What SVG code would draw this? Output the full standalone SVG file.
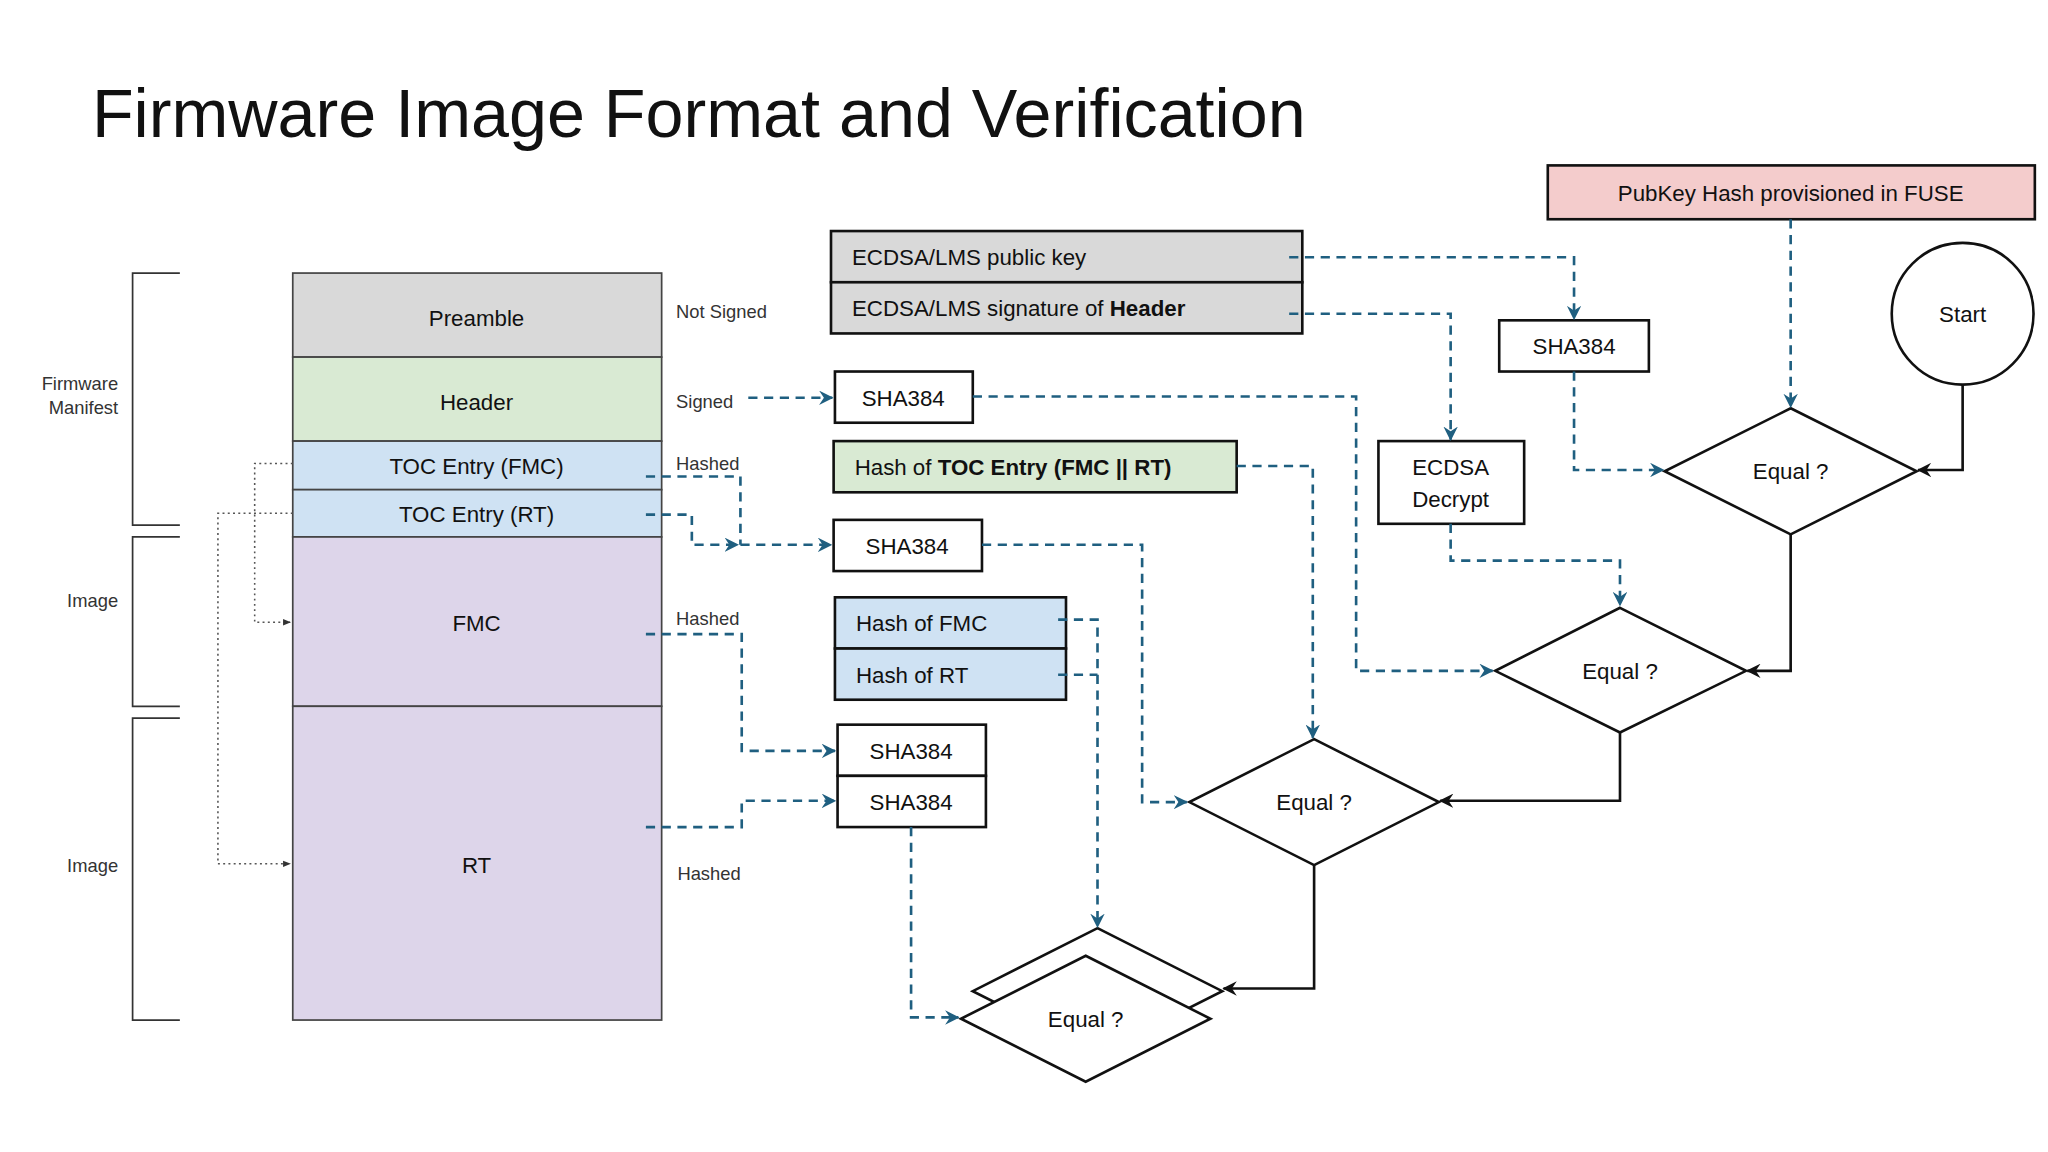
<svg xmlns="http://www.w3.org/2000/svg" width="2048" height="1152" viewBox="0 0 2048 1152">
<style>
text{font-family:"Liberation Sans",Arial,sans-serif;fill:#111}
.t{font-size:17px}
.s{font-size:14px;fill:#333}
.b{stroke:#111;stroke-width:2}
.st{stroke:#444;stroke-width:1.3}
.d{fill:none;stroke:#1f5f80;stroke-width:2;stroke-dasharray:7,5}
.k{fill:none;stroke:#111;stroke-width:2}
.dot{fill:none;stroke:#555;stroke-width:1.2;stroke-dasharray:1.5,2.5}
.br{fill:none;stroke:#333;stroke-width:1.3}
</style>
<defs>
<marker id="ab" viewBox="0 0 12 12" refX="11" refY="6" markerWidth="11" markerHeight="11" markerUnits="userSpaceOnUse" orient="auto"><path d="M0,0 L12,6 L0,12 L4,6 z" fill="#1f5f80"/></marker>
<marker id="ak" viewBox="0 0 12 12" refX="11" refY="6" markerWidth="11" markerHeight="11" markerUnits="userSpaceOnUse" orient="auto"><path d="M0,0 L12,6 L0,12 L4,6 z" fill="#111"/></marker>
<marker id="as" viewBox="0 0 10 10" refX="9" refY="5" markerWidth="6" markerHeight="6" markerUnits="userSpaceOnUse" orient="auto"><path d="M0,1 L10,5 L0,9 z" fill="#333"/></marker>
</defs>
<rect width="2048" height="1152" fill="#fff"/>
<g transform="scale(1.3128)">
<text x="70" y="104" style="font-size:52px">Firmware Image Format and Verification</text>
<g id="brackets">
<path class="br" d="M137,208 H101 V400 H137"/>
<path class="br" d="M137,409 H101 V538 H137"/>
<path class="br" d="M137,547 H101 V777 H137"/>
<text class="s" x="90" y="297" text-anchor="end">Firmware</text>
<text class="s" x="90" y="315" text-anchor="end">Manifest</text>
<text class="s" x="90" y="462" text-anchor="end">Image</text>
<text class="s" x="90" y="664" text-anchor="end">Image</text>
</g>
<g id="preamble"><rect class="st" x="223" y="208" width="281" height="64" fill="#d9d9d9"/><text class="t" x="363" y="248" text-anchor="middle">Preamble</text></g>
<g id="header"><rect class="st" x="223" y="272" width="281" height="64" fill="#d9ead3"/><text class="t" x="363" y="312" text-anchor="middle">Header</text></g>
<g id="tocfmc"><rect class="st" x="223" y="336" width="281" height="37" fill="#cfe2f3"/><text class="t" x="363" y="361" text-anchor="middle">TOC Entry (FMC)</text></g>
<g id="tocrt"><rect class="st" x="223" y="373" width="281" height="36" fill="#cfe2f3"/><text class="t" x="363" y="398" text-anchor="middle">TOC Entry (RT)</text></g>
<g id="fmc"><rect class="st" x="223" y="409" width="281" height="129" fill="#ddd5ea"/><text class="t" x="363" y="481" text-anchor="middle">FMC</text></g>
<g id="rt"><rect class="st" x="223" y="538" width="281" height="239" fill="#ddd5ea"/><text class="t" x="363" y="665" text-anchor="middle">RT</text></g>
<g id="sidelabels">
<text class="s" x="515" y="242">Not Signed</text>
<text class="s" x="515" y="311">Signed</text>
<text class="s" x="515" y="358">Hashed</text>
<text class="s" x="515" y="476">Hashed</text>
<text class="s" x="516" y="670">Hashed</text>
</g>
<g id="keys"><rect class="b" x="633" y="176" width="359" height="39" fill="#d9d9d9"/><rect class="b" x="633" y="215" width="359" height="39" fill="#d9d9d9"/>
<text class="t" x="649" y="202">ECDSA/LMS public key</text><text class="t" x="649" y="241">ECDSA/LMS signature of <tspan font-weight="bold">Header</tspan></text></g>
<g id="sha1"><rect class="b" x="636" y="283" width="105" height="39" fill="#fff"/><text class="t" x="688" y="309" text-anchor="middle">SHA384</text></g>
<g id="hashtoc"><rect class="b" x="635" y="336" width="307" height="39" fill="#d9ead3"/><text class="t" x="651" y="362">Hash of <tspan font-weight="bold">TOC Entry (FMC || RT)</tspan></text></g>
<g id="sha2"><rect class="b" x="635" y="396" width="113" height="39" fill="#fff"/><text class="t" x="691" y="422" text-anchor="middle">SHA384</text></g>
<g id="hashimg"><rect class="b" x="636" y="455" width="176" height="39" fill="#cfe2f3"/><rect class="b" x="636" y="494" width="176" height="39" fill="#cfe2f3"/>
<text class="t" x="652" y="481">Hash of FMC</text><text class="t" x="652" y="520">Hash of RT</text></g>
<g id="sha34"><rect class="b" x="638" y="552" width="113" height="39" fill="#fff"/><rect class="b" x="638" y="591" width="113" height="39" fill="#fff"/>
<text class="t" x="694" y="578" text-anchor="middle">SHA384</text><text class="t" x="694" y="617" text-anchor="middle">SHA384</text></g>
<g id="pubkey"><rect class="b" x="1179" y="126" width="371" height="41" fill="#f4cccc"/><text class="t" x="1364" y="153" text-anchor="middle">PubKey Hash provisioned in FUSE</text></g>
<g id="start"><circle class="b" cx="1495" cy="239" r="54" fill="#fff"/><text class="t" x="1495" y="245" text-anchor="middle">Start</text></g>
<g id="sha5"><rect class="b" x="1142" y="244" width="114" height="39" fill="#fff"/><text class="t" x="1199" y="270" text-anchor="middle">SHA384</text></g>
<g id="decrypt"><rect class="b" x="1050" y="336" width="111" height="63" fill="#fff"/><text class="t" x="1105" y="362" text-anchor="middle">ECDSA</text><text class="t" x="1105" y="386" text-anchor="middle">Decrypt</text></g>
<g id="eq1"><path class="b" d="M1364,311 L1460,359 L1364,407 L1268,359 z" fill="#fff"/><text class="t" x="1364" y="365" text-anchor="middle">Equal ?</text></g>
<g id="eq2"><path class="b" d="M1234,463 L1330,511 L1234,558 L1139,511 z" fill="#fff"/><text class="t" x="1234" y="517" text-anchor="middle">Equal ?</text></g>
<g id="eq3"><path class="b" d="M1001,563 L1096,611 L1001,659 L906,611 z" fill="#fff"/><text class="t" x="1001" y="617" text-anchor="middle">Equal ?</text></g>
<g id="eq4"><path class="b" d="M836,707 L931,755 L836,803 L741,755 z" fill="#fff"/><path class="b" d="M827,728 L922,776 L827,824 L732,776 z" fill="#fff"/><text class="t" x="827" y="782" text-anchor="middle">Equal ?</text></g>
<g id="connectors">
<path class="dot" d="M223,353 H194 V474 H221" marker-end="url(#as)"/>
<path class="dot" d="M223,391 H166 V658 H221" marker-end="url(#as)"/>
<path class="d" d="M570,303 H634" marker-end="url(#ab)"/>
<path class="d" d="M492,363 H564 V415"/>
<path class="d" d="M492,392 H527 V415 H562" marker-end="url(#ab)"/>
<path class="d" d="M564,415 H633" marker-end="url(#ab)"/>
<path class="d" d="M492,483 H565 V572 H636" marker-end="url(#ab)"/>
<path class="d" d="M492,630 H565 V610 H636" marker-end="url(#ab)"/>
<path class="d" d="M694,630 V775 H730" marker-end="url(#ab)"/>
<path class="d" d="M982,196 H1199 V243" marker-end="url(#ab)"/>
<path class="d" d="M982,239 H1105 V335" marker-end="url(#ab)"/>
<path class="d" d="M741,302 H1033 V511 H1137" marker-end="url(#ab)"/>
<path class="d" d="M942,355 H1000 V562" marker-end="url(#ab)"/>
<path class="d" d="M748,415 H870 V611 H904" marker-end="url(#ab)"/>
<path class="d" d="M806,472 H836 V706" marker-end="url(#ab)"/>
<path class="d" d="M806,514 H836"/>
<path class="d" d="M1199,283 V358 H1267" marker-end="url(#ab)"/>
<path class="d" d="M1105,399 V427 H1234 V461" marker-end="url(#ab)"/>
<path class="d" d="M1364,167 V310" marker-end="url(#ab)"/>
<path class="k" d="M1495,293 V358 H1461" marker-end="url(#ak)"/>
<path class="k" d="M1364,407 V511 H1331" marker-end="url(#ak)"/>
<path class="k" d="M1234,558 V610 H1097" marker-end="url(#ak)"/>
<path class="k" d="M1001,659 V753 H932" marker-end="url(#ak)"/>
</g>
</g>
</svg>
